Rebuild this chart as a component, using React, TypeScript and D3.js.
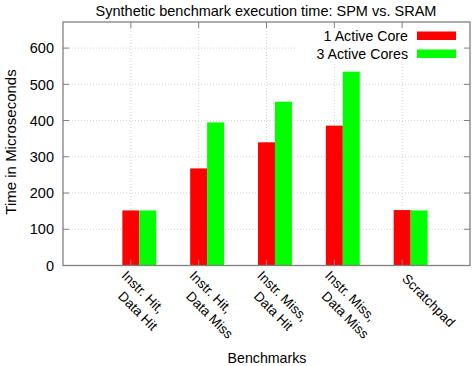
import * as d3 from "d3";
import React, { useEffect, useRef } from "react";

// benchmark categories, one label line per entry
const categories = [
  ["Instr. Hit,", "Data Hit"],
  ["Instr. Hit,", "Data Miss"],
  ["Instr. Miss,", "Data Hit"],
  ["Instr. Miss,", "Data Miss"],
  ["Scratchpad"],
];
const oneCore = [152, 268, 340, 386, 153];
const threeCores = [152, 395, 452, 535, 152];
const seriesNames = ["1 Active Core", "3 Active Cores"];
const seriesColors = ["#ff0000", "#00ff00"];
const yTicks = [0, 100, 200, 300, 400, 500, 600];

const W = 474;
const H = 366;
const FONT = "'Liberation Sans', Arial, Helvetica, sans-serif";

export default function App() {
  const ref = useRef<SVGSVGElement>(null);

  useEffect(() => {
    const svg = d3.select(ref.current);
    svg.selectAll("*").remove();

    const left = 63, right = 470, top = 22, bottom = 265.5;
    const x = d3.scaleLinear().domain([-1, 5]).range([left, right]);
    const y = d3.scaleLinear().domain([0, 672]).range([bottom, top]);
    const barW = x(0.25) - x(0);

    svg.append("rect").attr("width", W).attr("height", H).attr("fill", "#fff");

    // grid
    const grid = svg.append("g").attr("stroke", "#c8c8c8").attr("stroke-width", 0.8)
      .attr("stroke-dasharray", "1,2");
    yTicks.slice(1).forEach((t) => {
      grid.append("line").attr("x1", left).attr("x2", right)
        .attr("y1", y(t)).attr("y2", y(t));
    });
    categories.forEach((_, i) => {
      grid.append("line").attr("x1", x(i)).attr("x2", x(i))
        .attr("y1", top).attr("y2", bottom);
    });

    // bars
    [oneCore, threeCores].forEach((vals, s) => {
      svg.append("g").selectAll("rect").data(vals).join("rect")
        .attr("x", (_, i) => x(i) - barW / 2 + s * barW)
        .attr("y", (d) => y(d))
        .attr("width", barW)
        .attr("height", (d) => y(0) - y(d))
        .attr("fill", seriesColors[s]);
    });

    // legend background covers grid
    svg.append("rect").attr("x", 296).attr("y", top + 1).attr("width", right - 297)
      .attr("height", 40).attr("fill", "#fff");
    seriesNames.forEach((name, s) => {
      const cy = 36 + s * 18;
      svg.append("text").attr("x", 408).attr("y", cy).attr("dy", "0.36em")
        .attr("text-anchor", "end").attr("font-family", FONT).attr("font-size", 14.2)
        .attr("fill", "#000").text(name);
      svg.append("rect").attr("x", 417).attr("y", cy - 4.5).attr("width", 39)
        .attr("height", 8.5).attr("fill", seriesColors[s]);
    });

    // frame
    svg.append("rect").attr("x", left).attr("y", top).attr("width", right - left)
      .attr("height", bottom - top).attr("fill", "none").attr("stroke", "#808080")
      .attr("stroke-width", 1.3);

    // ticks
    const tk = svg.append("g").attr("stroke", "#808080").attr("stroke-width", 1);
    yTicks.forEach((t) => {
      tk.append("line").attr("x1", left).attr("x2", left + 6).attr("y1", y(t)).attr("y2", y(t));
      tk.append("line").attr("x1", right).attr("x2", right - 6).attr("y1", y(t)).attr("y2", y(t));
    });
    categories.forEach((_, i) => {
      tk.append("line").attr("x1", x(i)).attr("x2", x(i)).attr("y1", bottom).attr("y2", bottom - 6);
      tk.append("line").attr("x1", x(i)).attr("x2", x(i)).attr("y1", top).attr("y2", top + 6);
    });

    // y tick labels
    svg.append("g").selectAll("text").data(yTicks).join("text")
      .attr("x", 54).attr("y", (d) => y(d)).attr("dy", "0.36em")
      .attr("text-anchor", "end").attr("font-family", FONT).attr("font-size", 14.5)
      .text((d) => d);

    // x tick labels, rotated
    categories.forEach((lines, i) => {
      const multi = lines.length > 1;
      const tx = x(i) + (multi ? -10 : -1);
      const ty = bottom + (multi ? 11 : 14);
      const t = svg.append("text")
        .attr("transform", `translate(${tx},${ty}) rotate(45)`)
        .attr("font-family", FONT).attr("font-size", 13.5);
      lines.forEach((ln, j) => {
        t.append("tspan").attr("x", j * 12).attr("y", j * 17).text(ln);
      });
    });

    // titles
    svg.append("text").attr("x", 266).attr("y", 16).attr("text-anchor", "middle")
      .attr("font-family", FONT).attr("font-size", 14.5).text(
        "Synthetic benchmark execution time: SPM vs. SRAM");
    svg.append("text").attr("transform", `translate(16,142) rotate(-90)`)
      .attr("text-anchor", "middle").attr("font-family", FONT).attr("font-size", 15)
      .text("Time in Microseconds");
    svg.append("text").attr("x", 267).attr("y", 363).attr("text-anchor", "middle")
      .attr("font-family", FONT).attr("font-size", 14.2).text("Benchmarks");
  }, []);

  return (
    <svg ref={ref} width={W} height={H}
      style={{ position: "absolute", left: 0, top: 0, display: "block" }} />
  );
}
